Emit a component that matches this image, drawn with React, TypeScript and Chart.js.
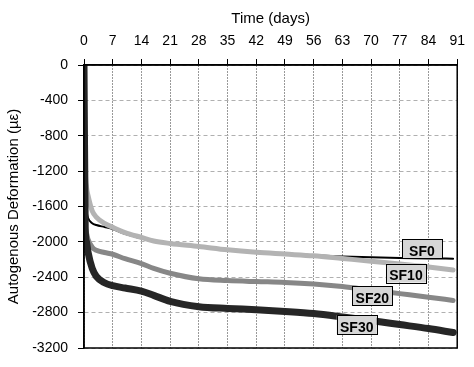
import React, { useEffect, useRef } from "react";
import { Chart, registerables } from "chart.js";

Chart.register(...registerables);

const days = [0, 0.3, 0.6, 1, 2, 3, 5, 7, 10, 14, 17, 21, 28, 35, 42, 49, 56, 63, 70, 77, 84, 90];
const sf0 = [0, -1450, -1650, -1730, -1790, -1810, -1832, -1855, -1910, -1960, -1995, -2020, -2050, -2085, -2112, -2132, -2150, -2165, -2175, -2182, -2187, -2190];
const sf10 = [0, -1150, -1380, -1480, -1650, -1720, -1790, -1835, -1895, -1950, -1990, -2018, -2052, -2090, -2118, -2138, -2158, -2188, -2218, -2250, -2285, -2318];
const sf20 = [0, -1750, -1900, -1975, -2060, -2095, -2120, -2140, -2190, -2245, -2300, -2355, -2418, -2438, -2449, -2458, -2476, -2505, -2545, -2585, -2625, -2662];
const sf30 = [0, -1850, -2000, -2120, -2300, -2390, -2462, -2495, -2522, -2557, -2605, -2672, -2733, -2753, -2767, -2786, -2810, -2848, -2890, -2935, -2980, -3025];

const seriesNames = ["SF0", "SF10", "SF20", "SF30"];
const labelDays = [82.4, 78.5, 70.3, 66.5];
const labelValues = [-2080, -2352, -2608, -2937];

const xTicksMax = 91;
const xStep = 7;
const yMin = -3200;
const yStep = 400;

const toPts = (vals: number[]) => vals.map((v, i) => ({ x: days[i], y: v }));

const labelPlugin = {
  id: "sfLabels",
  afterDatasetsDraw(chart: any) {
    const { ctx, scales, chartArea } = chart;
    ctx.save();
    ctx.font = "bold 14px 'Liberation Sans', Arial, sans-serif";
    ctx.textAlign = "center";
    ctx.textBaseline = "middle";
    seriesNames.forEach((name, i) => {
      const cx = scales.x.getPixelForValue(labelDays[i]);
      const cy = scales.y.getPixelForValue(labelValues[i]);
      const w = 40, h = 19;
      ctx.fillStyle = "#d6d6d6";
      ctx.fillRect(cx - w / 2, cy - h / 2, w, h);
      ctx.strokeStyle = "#000";
      ctx.lineWidth = 1;
      ctx.strokeRect(Math.round(cx - w / 2) + 0.5, Math.round(cy - h / 2) + 0.5, w, h);
      ctx.fillStyle = "#000";
      ctx.fillText(name, cx, cy + 3);
    });
    ctx.strokeStyle = "#000";
    ctx.lineWidth = 1.5;
    ctx.strokeRect(chartArea.left, chartArea.top, chartArea.right - chartArea.left, chartArea.bottom - chartArea.top);
    ctx.restore();
  },
};

export default function App() {
  const ref = useRef<HTMLCanvasElement>(null);
  useEffect(() => {
    document.body.style.margin = "0";
    const font = "'Liberation Sans', Arial, sans-serif";
    const chart = new Chart(ref.current!, {
      type: "line",
      data: {
        datasets: [
          { label: "SF0", data: toPts(sf0), borderColor: "#000", borderWidth: 2, order: 4 },
          { label: "SF10", data: toPts(sf10), borderColor: "#b3b3b3", borderWidth: 5, order: 3 },
          { label: "SF20", data: toPts(sf20), borderColor: "#878787", borderWidth: 5, order: 2 },
          { label: "SF30", data: toPts(sf30), borderColor: "#262626", borderWidth: 7, order: 1 },
        ].map((d) => ({ ...d, pointRadius: 0, fill: false, cubicInterpolationMode: "monotone" as const, borderCapStyle: "round" as const })),
      },
      options: {
        animation: false,
        responsive: true,
        maintainAspectRatio: false,
        layout: { padding: { left: 0, top: 0, right: 10, bottom: 19 } },
        plugins: { legend: { display: false }, tooltip: { enabled: false } },
        scales: {
          x: {
            type: "linear",
            position: "top",
            min: 0,
            max: xTicksMax,
            afterFit: (s: any) => { s.height = 65; },
            ticks: { stepSize: xStep, color: "#000", font: { family: font, size: 14 }, padding: 9, maxRotation: 0 },
            title: { display: true, text: "Time (days)", color: "#000", font: { family: font, size: 15 }, padding: { top: 10, bottom: 0 } },
            grid: { color: "#333", tickColor: "#000", tickLength: 6, tickBorderDash: [], lineWidth: 1 },
            border: { display: true, color: "#000", width: 1.5, dash: [1, 2] },
          },
          y: {
            type: "linear",
            min: yMin,
            max: 0,
            afterFit: (s: any) => { s.width = 84; },
            ticks: { stepSize: yStep, color: "#000", font: { family: font, size: 14 }, padding: 10, callback: (v: any) => String(v) },
            title: { display: true, text: "Autogenous Deformation (µε)", color: "#000", font: { family: font, size: 15 }, padding: { top: 5, bottom: 0 } },
            grid: { color: "#b0b0b0", tickColor: "#000", tickLength: 6, tickBorderDash: [], lineWidth: 1 },
            border: { display: true, color: "#000", width: 1.5, dash: [4, 3] },
          },
        },
      },
      plugins: [labelPlugin],
    });
    return () => chart.destroy();
  }, []);
  return (
    <div style={{ width: 474, height: 367, position: "relative" }}>
      <canvas ref={ref} />
    </div>
  );
}
